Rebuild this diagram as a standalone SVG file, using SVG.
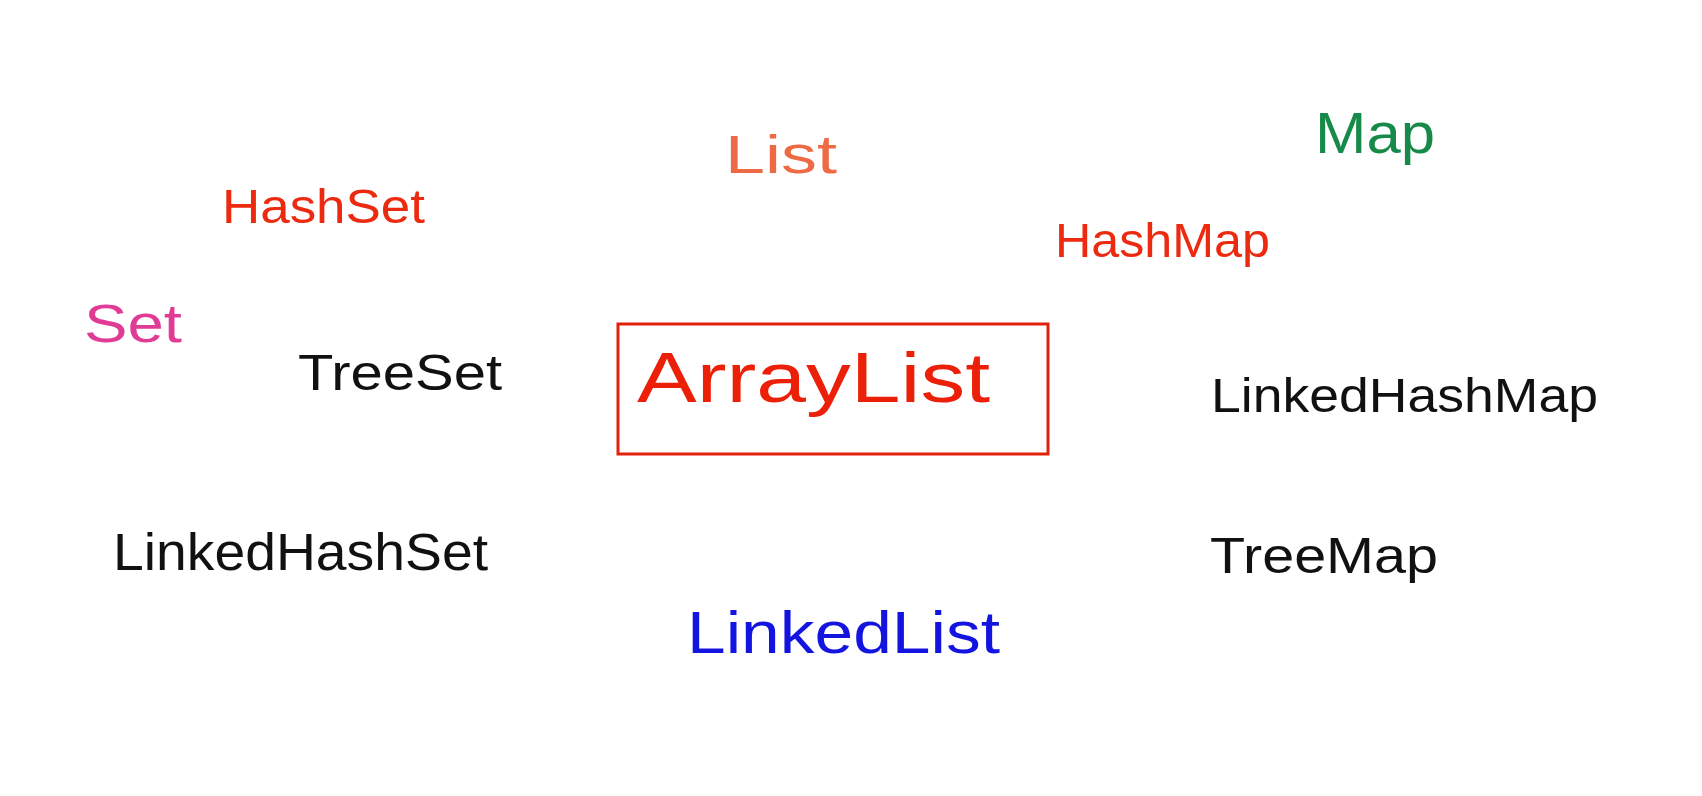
<svg xmlns="http://www.w3.org/2000/svg" width="1702" height="796" viewBox="0 0 1702 796">
<style>
text{font-family:"Liberation Sans","DejaVu Sans",sans-serif;font-weight:normal}
.k{fill:#111}
</style>
<rect width="1702" height="796" fill="#fff"/>
<g id="connectors"></g>
<g id="arraylist">
<rect x="618" y="324" width="430" height="130" fill="none" stroke="#e2200c" stroke-width="3"/>
<text x="637" y="402" font-size="70" fill="#ec2008" textLength="353" lengthAdjust="spacingAndGlyphs">ArrayList</text>
</g>
<g id="list"><text x="725" y="173" font-size="53" fill="#ee6a45" textLength="112" lengthAdjust="spacingAndGlyphs">List</text></g>
<g id="map"><text x="1315" y="153" font-size="57" fill="#178a4a" textLength="120" lengthAdjust="spacingAndGlyphs">Map</text></g>
<g id="hashset"><text x="222" y="223" font-size="49" fill="#ec2a10" textLength="203" lengthAdjust="spacingAndGlyphs">HashSet</text></g>
<g id="hashmap"><text x="1055" y="257" font-size="48" fill="#ec2a10" textLength="215" lengthAdjust="spacingAndGlyphs">HashMap</text></g>
<g id="set"><text x="84" y="342" font-size="53" fill="#e03c95" textLength="98" lengthAdjust="spacingAndGlyphs">Set</text></g>
<g id="treeset"><text class="k" x="298" y="390" font-size="50" textLength="204" lengthAdjust="spacingAndGlyphs">TreeSet</text></g>
<g id="linkedhashmap"><text class="k" x="1211" y="412" font-size="48" textLength="387" lengthAdjust="spacingAndGlyphs">LinkedHashMap</text></g>
<g id="treemap"><text class="k" x="1210" y="573" font-size="50" textLength="228" lengthAdjust="spacingAndGlyphs">TreeMap</text></g>
<g id="linkedhashset"><text class="k" x="113" y="570" font-size="51" textLength="375" lengthAdjust="spacingAndGlyphs">LinkedHashSet</text></g>
<g id="linkedlist"><text x="687" y="653" font-size="60" fill="#1414e0" textLength="313" lengthAdjust="spacingAndGlyphs">LinkedList</text></g>
</svg>
